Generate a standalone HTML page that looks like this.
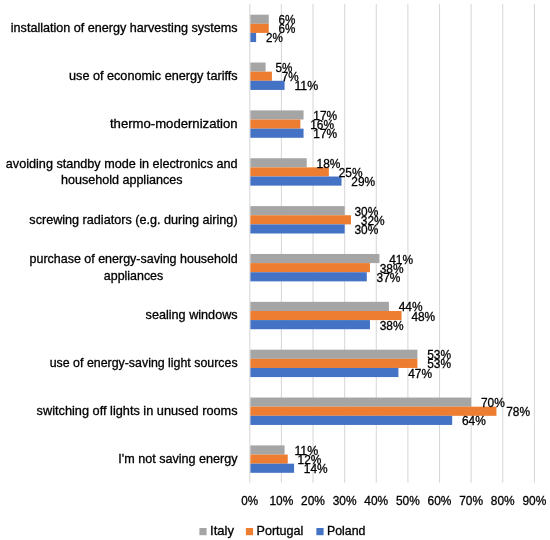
<!DOCTYPE html>
<html><head><meta charset="utf-8"><style>
html,body{margin:0;padding:0;background:#fff;}
svg{display:block;}
text{font-family:"Liberation Sans", Arial, sans-serif;font-size:12.4px;fill:#000;stroke:#000;stroke-width:0.3px;}
</style></head><body>
<svg width="550" height="540" viewBox="0 0 550 540">
<rect width="550" height="540" fill="#fff"/>
<rect x="249.25" y="3.90" width="1.1" height="478.80" fill="#D9D9D9"/>
<rect x="280.87" y="3.90" width="1.1" height="478.80" fill="#D9D9D9"/>
<rect x="312.49" y="3.90" width="1.1" height="478.80" fill="#D9D9D9"/>
<rect x="344.11" y="3.90" width="1.1" height="478.80" fill="#D9D9D9"/>
<rect x="375.73" y="3.90" width="1.1" height="478.80" fill="#D9D9D9"/>
<rect x="407.35" y="3.90" width="1.1" height="478.80" fill="#D9D9D9"/>
<rect x="438.97" y="3.90" width="1.1" height="478.80" fill="#D9D9D9"/>
<rect x="470.59" y="3.90" width="1.1" height="478.80" fill="#D9D9D9"/>
<rect x="502.21" y="3.90" width="1.1" height="478.80" fill="#D9D9D9"/>
<rect x="533.83" y="3.90" width="1.1" height="478.80" fill="#D9D9D9"/>
<rect x="250.40" y="14.67" width="18.37" height="9.13" fill="#A5A5A5"/>
<rect x="250.40" y="23.80" width="18.37" height="9.13" fill="#ED7D31"/>
<rect x="250.40" y="32.93" width="5.72" height="9.13" fill="#4472C4"/>
<text x="278.57" y="24.23" text-anchor="start" textLength="16.86" lengthAdjust="spacingAndGlyphs">6%</text>
<text x="278.57" y="33.37" text-anchor="start" textLength="16.86" lengthAdjust="spacingAndGlyphs">6%</text>
<text x="265.92" y="42.49" text-anchor="start" textLength="16.86" lengthAdjust="spacingAndGlyphs">2%</text>
<text x="237.60" y="32.23" text-anchor="end" textLength="226.78" lengthAdjust="spacingAndGlyphs">installation of energy harvesting systems</text>
<rect x="250.40" y="62.53" width="15.21" height="9.13" fill="#A5A5A5"/>
<rect x="250.40" y="71.66" width="21.53" height="9.13" fill="#ED7D31"/>
<rect x="250.40" y="80.79" width="34.18" height="9.13" fill="#4472C4"/>
<text x="275.41" y="72.09" text-anchor="start" textLength="16.86" lengthAdjust="spacingAndGlyphs">5%</text>
<text x="281.73" y="81.22" text-anchor="start" textLength="16.86" lengthAdjust="spacingAndGlyphs">7%</text>
<text x="294.38" y="90.36" text-anchor="start" textLength="23.85" lengthAdjust="spacingAndGlyphs">11%</text>
<text x="237.60" y="80.09" text-anchor="end" textLength="168.56" lengthAdjust="spacingAndGlyphs">use of economic energy tariffs</text>
<rect x="250.40" y="110.39" width="53.15" height="9.13" fill="#A5A5A5"/>
<rect x="250.40" y="119.52" width="49.99" height="9.13" fill="#ED7D31"/>
<rect x="250.40" y="128.65" width="53.15" height="9.13" fill="#4472C4"/>
<text x="313.35" y="119.95" text-anchor="start" textLength="23.85" lengthAdjust="spacingAndGlyphs">17%</text>
<text x="310.19" y="129.08" text-anchor="start" textLength="23.85" lengthAdjust="spacingAndGlyphs">16%</text>
<text x="313.35" y="138.22" text-anchor="start" textLength="23.85" lengthAdjust="spacingAndGlyphs">17%</text>
<text x="237.60" y="127.95" text-anchor="end" textLength="127.64" lengthAdjust="spacingAndGlyphs">thermo-modernization</text>
<rect x="250.40" y="158.25" width="56.32" height="9.13" fill="#A5A5A5"/>
<rect x="250.40" y="167.38" width="78.45" height="9.13" fill="#ED7D31"/>
<rect x="250.40" y="176.51" width="91.10" height="9.13" fill="#4472C4"/>
<text x="316.52" y="167.81" text-anchor="start" textLength="23.85" lengthAdjust="spacingAndGlyphs">18%</text>
<text x="338.65" y="176.94" text-anchor="start" textLength="23.85" lengthAdjust="spacingAndGlyphs">25%</text>
<text x="351.30" y="186.07" text-anchor="start" textLength="23.85" lengthAdjust="spacingAndGlyphs">29%</text>
<text x="121.72" y="167.71" text-anchor="middle" textLength="231.75" lengthAdjust="spacingAndGlyphs">avoiding standby mode in electronics and</text>
<text x="121.72" y="184.11" text-anchor="middle" textLength="121.51" lengthAdjust="spacingAndGlyphs">household appliances</text>
<rect x="250.40" y="206.11" width="94.26" height="9.13" fill="#A5A5A5"/>
<rect x="250.40" y="215.24" width="100.58" height="9.13" fill="#ED7D31"/>
<rect x="250.40" y="224.37" width="94.26" height="9.13" fill="#4472C4"/>
<text x="354.46" y="215.68" text-anchor="start" textLength="23.85" lengthAdjust="spacingAndGlyphs">30%</text>
<text x="360.78" y="224.81" text-anchor="start" textLength="23.85" lengthAdjust="spacingAndGlyphs">32%</text>
<text x="354.46" y="233.94" text-anchor="start" textLength="23.85" lengthAdjust="spacingAndGlyphs">30%</text>
<text x="237.60" y="223.67" text-anchor="end" textLength="208.27" lengthAdjust="spacingAndGlyphs">screwing radiators (e.g. during airing)</text>
<rect x="250.40" y="253.97" width="129.04" height="9.13" fill="#A5A5A5"/>
<rect x="250.40" y="263.10" width="119.56" height="9.13" fill="#ED7D31"/>
<rect x="250.40" y="272.23" width="116.39" height="9.13" fill="#4472C4"/>
<text x="389.24" y="263.54" text-anchor="start" textLength="23.85" lengthAdjust="spacingAndGlyphs">41%</text>
<text x="379.76" y="272.67" text-anchor="start" textLength="23.85" lengthAdjust="spacingAndGlyphs">38%</text>
<text x="376.59" y="281.80" text-anchor="start" textLength="23.85" lengthAdjust="spacingAndGlyphs">37%</text>
<text x="133.55" y="263.43" text-anchor="middle" textLength="208.10" lengthAdjust="spacingAndGlyphs">purchase of energy-saving household</text>
<text x="133.55" y="279.83" text-anchor="middle" textLength="59.40" lengthAdjust="spacingAndGlyphs">appliances</text>
<rect x="250.40" y="301.83" width="138.53" height="9.13" fill="#A5A5A5"/>
<rect x="250.40" y="310.96" width="151.18" height="9.13" fill="#ED7D31"/>
<rect x="250.40" y="320.09" width="119.56" height="9.13" fill="#4472C4"/>
<text x="398.73" y="311.39" text-anchor="start" textLength="23.85" lengthAdjust="spacingAndGlyphs">44%</text>
<text x="411.38" y="320.52" text-anchor="start" textLength="23.85" lengthAdjust="spacingAndGlyphs">48%</text>
<text x="379.76" y="329.65" text-anchor="start" textLength="23.85" lengthAdjust="spacingAndGlyphs">38%</text>
<text x="237.60" y="319.39" text-anchor="end" textLength="91.97" lengthAdjust="spacingAndGlyphs">sealing windows</text>
<rect x="250.40" y="349.69" width="166.99" height="9.13" fill="#A5A5A5"/>
<rect x="250.40" y="358.82" width="166.99" height="9.13" fill="#ED7D31"/>
<rect x="250.40" y="367.95" width="148.01" height="9.13" fill="#4472C4"/>
<text x="427.19" y="359.25" text-anchor="start" textLength="23.85" lengthAdjust="spacingAndGlyphs">53%</text>
<text x="427.19" y="368.38" text-anchor="start" textLength="23.85" lengthAdjust="spacingAndGlyphs">53%</text>
<text x="408.21" y="377.51" text-anchor="start" textLength="23.85" lengthAdjust="spacingAndGlyphs">47%</text>
<text x="237.60" y="367.25" text-anchor="end" textLength="187.88" lengthAdjust="spacingAndGlyphs">use of energy-saving light sources</text>
<rect x="250.40" y="397.55" width="220.74" height="9.13" fill="#A5A5A5"/>
<rect x="250.40" y="406.68" width="246.04" height="9.13" fill="#ED7D31"/>
<rect x="250.40" y="415.81" width="201.77" height="9.13" fill="#4472C4"/>
<text x="480.94" y="407.11" text-anchor="start" textLength="23.85" lengthAdjust="spacingAndGlyphs">70%</text>
<text x="506.24" y="416.24" text-anchor="start" textLength="23.85" lengthAdjust="spacingAndGlyphs">78%</text>
<text x="461.97" y="425.37" text-anchor="start" textLength="23.85" lengthAdjust="spacingAndGlyphs">64%</text>
<text x="237.60" y="415.11" text-anchor="end" textLength="200.96" lengthAdjust="spacingAndGlyphs">switching off lights in unused rooms</text>
<rect x="250.40" y="445.41" width="34.18" height="9.13" fill="#A5A5A5"/>
<rect x="250.40" y="454.54" width="37.34" height="9.13" fill="#ED7D31"/>
<rect x="250.40" y="463.67" width="43.67" height="9.13" fill="#4472C4"/>
<text x="294.38" y="454.97" text-anchor="start" textLength="23.85" lengthAdjust="spacingAndGlyphs">11%</text>
<text x="297.54" y="464.10" text-anchor="start" textLength="23.85" lengthAdjust="spacingAndGlyphs">12%</text>
<text x="303.87" y="473.23" text-anchor="start" textLength="23.85" lengthAdjust="spacingAndGlyphs">14%</text>
<text x="237.60" y="462.97" text-anchor="end" textLength="119.33" lengthAdjust="spacingAndGlyphs">I'm not saving energy</text>
<text x="249.80" y="504.60" text-anchor="middle" textLength="16.86" lengthAdjust="spacingAndGlyphs">0%</text>
<text x="281.42" y="504.60" text-anchor="middle" textLength="23.85" lengthAdjust="spacingAndGlyphs">10%</text>
<text x="313.04" y="504.60" text-anchor="middle" textLength="23.85" lengthAdjust="spacingAndGlyphs">20%</text>
<text x="344.66" y="504.60" text-anchor="middle" textLength="23.85" lengthAdjust="spacingAndGlyphs">30%</text>
<text x="376.28" y="504.60" text-anchor="middle" textLength="23.85" lengthAdjust="spacingAndGlyphs">40%</text>
<text x="407.90" y="504.60" text-anchor="middle" textLength="23.85" lengthAdjust="spacingAndGlyphs">50%</text>
<text x="439.52" y="504.60" text-anchor="middle" textLength="23.85" lengthAdjust="spacingAndGlyphs">60%</text>
<text x="471.14" y="504.60" text-anchor="middle" textLength="23.85" lengthAdjust="spacingAndGlyphs">70%</text>
<text x="502.76" y="504.60" text-anchor="middle" textLength="23.85" lengthAdjust="spacingAndGlyphs">80%</text>
<text x="534.38" y="504.60" text-anchor="middle" textLength="23.85" lengthAdjust="spacingAndGlyphs">90%</text>
<rect x="199.40" y="528.0" width="7.2" height="7.2" fill="#A5A5A5"/>
<text x="210.00" y="535.30" text-anchor="start" textLength="23.96" lengthAdjust="spacingAndGlyphs">Italy</text>
<rect x="245.90" y="528.0" width="7.2" height="7.2" fill="#ED7D31"/>
<text x="256.50" y="535.30" text-anchor="start" textLength="46.83" lengthAdjust="spacingAndGlyphs">Portugal</text>
<rect x="316.40" y="528.0" width="7.2" height="7.2" fill="#4472C4"/>
<text x="327.00" y="535.30" text-anchor="start" textLength="38.41" lengthAdjust="spacingAndGlyphs">Poland</text>
</svg>
</body></html>
